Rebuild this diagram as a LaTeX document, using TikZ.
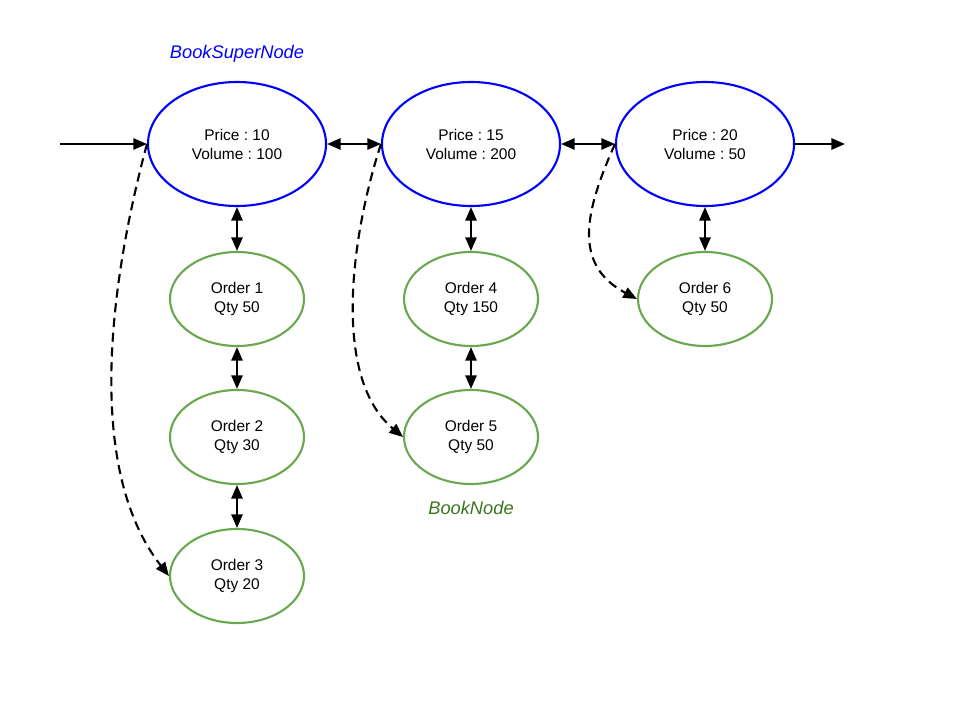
\documentclass[tikz,border=0pt]{standalone}
\usepackage{fontspec}
\setmainfont{Liberation Sans}
\usetikzlibrary{arrows.meta,shapes.geometric}
\definecolor{superblue}{RGB}{0,0,255}
\definecolor{bookgreen}{RGB}{106,168,79}
\definecolor{booklabel}{RGB}{56,118,29}
\frenchspacing

\begin{document}
\begin{tikzpicture}[
		supernode/.style={draw=superblue, line width=1.5pt, ellipse, minimum width=4.45cm, minimum height=3.1cm, inner sep=0pt, align=center, font=\fontsize{11}{13.5}\selectfont},
		booknode/.style={draw=bookgreen, line width=1.5pt, ellipse, minimum width=3.35cm, minimum height=2.35cm, inner sep=0pt, align=center, font=\fontsize{11}{13.5}\selectfont},
		tip/.style={-{Triangle[length=0.34cm, width=0.28cm]}, line width=1.5pt},
		link/.style={{Triangle[length=0.34cm, width=0.28cm]}-{Triangle[length=0.34cm, width=0.28cm]}, line width=1.5pt},
		skip/.style={tip, dash pattern=on 6.5pt off 4pt, looseness=#1},
		caption/.style={font=\fontsize{13}{15}\selectfont\itshape}
	]
			%%%%% START %%%%%
			
			\useasboundingbox (0, 0) rectangle (24, 18);
			
			\node[supernode] (price10) at (5.925, 14.4) {Price : 10\\Volume : 100};
			\node[supernode] (price15) at (11.775, 14.4) {Price : 15\\Volume : 200};
			\node[supernode] (price20) at (17.625, 14.4) {Price : 20\\Volume : 50};
			
			\node[booknode] (order1) at (5.925, 10.525) {Order 1\\Qty 50};
			\node[booknode] (order2) at (5.925, 7.075) {Order 2\\Qty 30};
			\node[booknode] (order3) at (5.925, 3.6) {Order 3\\Qty 20};
			\node[booknode] (order4) at (11.775, 10.525) {Order 4\\Qty 150};
			\node[booknode] (order5) at (11.775, 7.075) {Order 5\\Qty 50};
			\node[booknode] (order6) at (17.625, 10.525) {Order 6\\Qty 50};
			
			\node[caption, text=superblue] (superlabel) at (5.925, 16.65) {BookSuperNode};
			\node[caption, text=booklabel] (booklabel) at (11.775, 5.3) {BookNode};
			
			\coordinate (head) at (1.5, 14.4);
			\coordinate (tail) at (21.125, 14.4);
			\draw[tip] (head) -- (price10.west);
			\draw[tip] (price20.east) -- (tail);
			
			\draw[link] (price10.east) -- (price15.west);
			\draw[link] (price15.east) -- (price20.west);
			
			\draw[link] (price10.south) -- (order1.north);
			\draw[link] (order1.south) -- (order2.north);
			\draw[link] (order2.south) -- (order3.north);
			\draw[link] (price15.south) -- (order4.north);
			\draw[link] (order4.south) -- (order5.north);
			\draw[link] (price20.south) -- (order6.north);
			
			\draw[skip=0.82] (price10.west) to[out=-105, in=128] (order3.west);
			\draw[skip=0.82] (price15.west) to[out=-108, in=140] (order5.west);
			\draw[skip=1.2] (price20.west) to[out=-114, in=152] (order6.west);
			
			%%%%% END %%%%%
\end{tikzpicture}
\end{document}
